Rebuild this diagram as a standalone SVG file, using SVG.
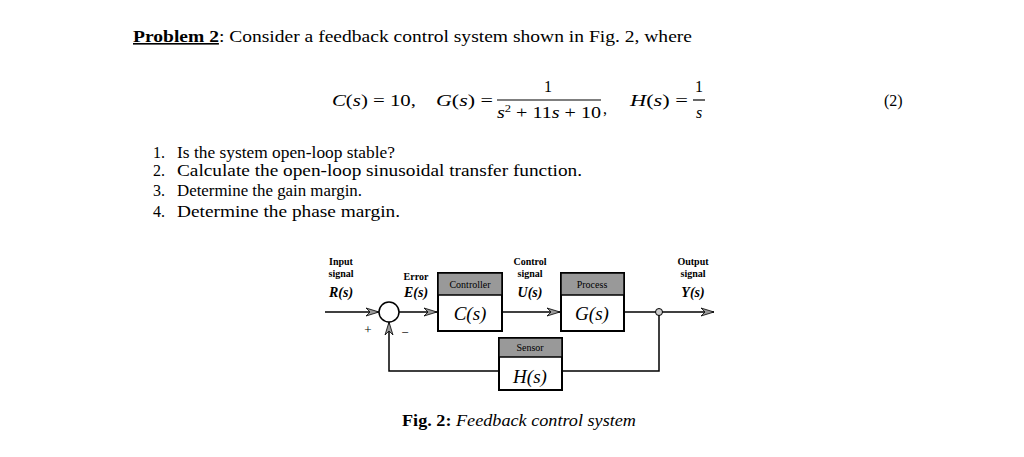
<svg xmlns="http://www.w3.org/2000/svg" width="1024" height="457" viewBox="0 0 1024 457">
<style>
text{font-family:"Liberation Serif","DejaVu Serif",serif;fill:#000}
.t{font-size:16px}
.m{font-size:16px;font-style:italic}
.s{font-size:10px;font-weight:bold}
.l{font-size:14px;font-style:italic;font-weight:bold}
.box{fill:#fff;stroke:#000;stroke-width:2}
.hd{fill:#999;stroke:#000;stroke-width:1.5}
.ln{fill:none;stroke:#000;stroke-width:1.5}
</style>
<defs><marker id="a" markerWidth="14" markerHeight="10" refX="13" refY="5" orient="auto" markerUnits="userSpaceOnUse"><path d="M0,1 L13,5 L0,9 L4,5 Z" fill="#999" stroke="#000" stroke-width="0.8"/></marker></defs>
<rect width="1024" height="457" fill="#fff"/>
<text x="133" y="42" class="t" textLength="559" lengthAdjust="spacingAndGlyphs"><tspan font-weight="bold" text-decoration="underline">Problem 2</tspan>: Consider a feedback control system shown in Fig. 2, where</text>
<text x="332" y="106" class="t" textLength="84" lengthAdjust="spacingAndGlyphs"><tspan font-style="italic">C</tspan>(<tspan font-style="italic">s</tspan>) = 10,</text>
<text x="436" y="106" class="t" textLength="57" lengthAdjust="spacingAndGlyphs"><tspan font-style="italic">G</tspan>(<tspan font-style="italic">s</tspan>) =</text>
<text x="548" y="92" class="t" text-anchor="middle">1</text>
<line x1="497" y1="100" x2="601" y2="100" stroke="#000" stroke-width="1.2"/>
<text x="497" y="118" class="t" textLength="104" lengthAdjust="spacingAndGlyphs"><tspan font-style="italic">s</tspan><tspan font-size="10" dy="-6">2</tspan><tspan dy="6"> + 11</tspan><tspan font-style="italic">s</tspan> + 10</text>
<text x="603" y="114" class="t">,</text>
<text x="630" y="106" class="t" textLength="58" lengthAdjust="spacingAndGlyphs"><tspan font-style="italic">H</tspan>(<tspan font-style="italic">s</tspan>) =</text>
<text x="699" y="92" class="t" text-anchor="middle">1</text>
<line x1="693" y1="100" x2="705" y2="100" stroke="#000" stroke-width="1.2"/>
<text x="699" y="118" class="m" text-anchor="middle">s</text>
<text x="884" y="106" class="t">(2)</text>
<text x="153" y="158" class="t">1.</text><text x="177" y="158" class="t" textLength="218" lengthAdjust="spacingAndGlyphs">Is the system open-loop stable?</text>
<text x="153" y="176" class="t">2.</text><text x="177" y="176" class="t" textLength="405" lengthAdjust="spacingAndGlyphs">Calculate the open-loop sinusoidal transfer function.</text>
<text x="153" y="196" class="t">3.</text><text x="177" y="196" class="t" textLength="185" lengthAdjust="spacingAndGlyphs">Determine the gain margin.</text>
<text x="153" y="217" class="t">4.</text><text x="177" y="217" class="t" textLength="223" lengthAdjust="spacingAndGlyphs">Determine the phase margin.</text>

<g id="labels">
<text x="341" y="265" class="s" text-anchor="middle">Input</text>
<text x="341" y="277" class="s" text-anchor="middle">signal</text>
<text x="341" y="297" class="l" text-anchor="middle">R(s)</text>
<text x="416" y="280" class="s" text-anchor="middle">Error</text>
<text x="416" y="297" class="l" text-anchor="middle">E(s)</text>
<text x="530" y="265" class="s" text-anchor="middle">Control</text>
<text x="530" y="277" class="s" text-anchor="middle">signal</text>
<text x="530" y="297" class="l" text-anchor="middle">U(s)</text>
<text x="693" y="265" class="s" text-anchor="middle">Output</text>
<text x="693" y="277" class="s" text-anchor="middle">signal</text>
<text x="693" y="297" class="l" text-anchor="middle">Y(s)</text>
<text x="368" y="334" font-size="13" text-anchor="middle">+</text>
<text x="405" y="337" font-size="13" text-anchor="middle">−</text>
</g>
<g id="sum"><circle cx="389" cy="312" r="10" fill="#fff" stroke="#000" stroke-width="1.5"/></g>
<g id="controller"><rect x="438" y="273" width="64" height="58" class="box"/><rect x="438" y="273" width="64" height="22" class="hd"/><text x="470" y="288" font-size="10" text-anchor="middle">Controller</text><text x="470" y="320" font-size="19" font-style="italic" text-anchor="middle">C(s)</text></g>
<g id="process"><rect x="561" y="273" width="63" height="58" class="box"/><rect x="561" y="273" width="63" height="22" class="hd"/><text x="592" y="288" font-size="10" text-anchor="middle">Process</text><text x="592" y="320" font-size="19" font-style="italic" text-anchor="middle">G(s)</text></g>
<g id="sensor"><rect x="499" y="338" width="63" height="52" class="box"/><rect x="499" y="338" width="63" height="19" class="hd"/><text x="530" y="351" font-size="10" text-anchor="middle">Sensor</text><text x="530" y="383" font-size="19" font-style="italic" text-anchor="middle">H(s)</text></g>
<g id="connectors">
<line x1="325" y1="312" x2="379" y2="312" class="ln" marker-end="url(#a)"/>
<line x1="399" y1="312" x2="437" y2="312" class="ln" marker-end="url(#a)"/>
<line x1="502" y1="312" x2="560" y2="312" class="ln" marker-end="url(#a)"/>
<line x1="624" y1="312" x2="714" y2="312" class="ln" marker-end="url(#a)"/>
<polyline points="659,312 659,371 562,371" class="ln"/>
<polyline points="499,371 389,371 389,322" class="ln" marker-end="url(#a)"/>
<circle cx="659" cy="312" r="3.5" fill="#ccc" stroke="#000"/>
</g>
<text x="402" y="426" class="t" textLength="234" lengthAdjust="spacingAndGlyphs"><tspan font-weight="bold">Fig. 2:</tspan> <tspan font-style="italic">Feedback control system</tspan></text>
</svg>
